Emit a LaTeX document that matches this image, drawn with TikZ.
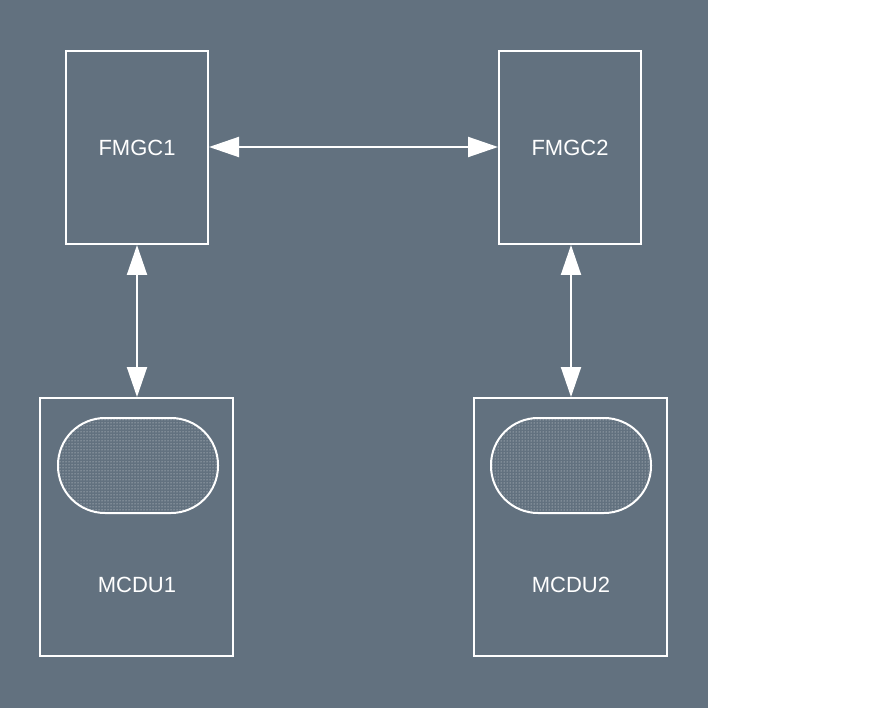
\documentclass[tikz,border=0pt]{standalone}
\usepackage{fontspec}
\setmainfont{Liberation Sans}
\usetikzlibrary{arrows.meta,patterns}
\definecolor{bg}{HTML}{62717F}
\begin{document}
\begin{tikzpicture}[x=1pt,y=-1pt,
  unit/.style={draw=white,line width=2pt,text=white,font=\fontsize{22}{26}\selectfont},
  link/.style={draw=white,line width=2pt,{Triangle[width=20pt,length=30pt,fill=white]}-{Triangle[width=20pt,length=30pt,fill=white]}},
  screen/.style={draw=white,line width=2pt,pattern=dots,pattern color=white!80!bg,rounded corners=47pt}]
\useasboundingbox (0,0) rectangle (880,708);
\fill[bg] (0,0) rectangle (708,708);
\draw[unit] (66,51) rectangle (208,244);
\draw[unit] (499,51) rectangle (641,244);
\draw[unit] (40,398) rectangle (233,656);
\draw[unit] (474,398) rectangle (667,656);
\node[text=white,font=\fontsize{22}{26}\selectfont] (f1) at (137,148) {FMGC1};
\node[text=white,font=\fontsize{22}{26}\selectfont] (f2) at (570,148) {FMGC2};
\node[text=white,font=\fontsize{22}{26}\selectfont] (m1) at (137,585) {MCDU1};
\node[text=white,font=\fontsize{22}{26}\selectfont] (m2) at (571,585) {MCDU2};
\coordinate (f1r) at (209,147); \coordinate (f2l) at (498,147);
\coordinate (f1b) at (137,245); \coordinate (m1t) at (137,397);
\coordinate (f2b) at (571,245); \coordinate (m2t) at (571,397);
\draw[screen] (58,418) rectangle (218,513);
\draw[screen] (491,418) rectangle (651,513);
\draw[link] (f1r) -- (f2l);
\draw[link] (f1b) -- (m1t);
\draw[link] (f2b) -- (m2t);
\end{tikzpicture}
\end{document}
